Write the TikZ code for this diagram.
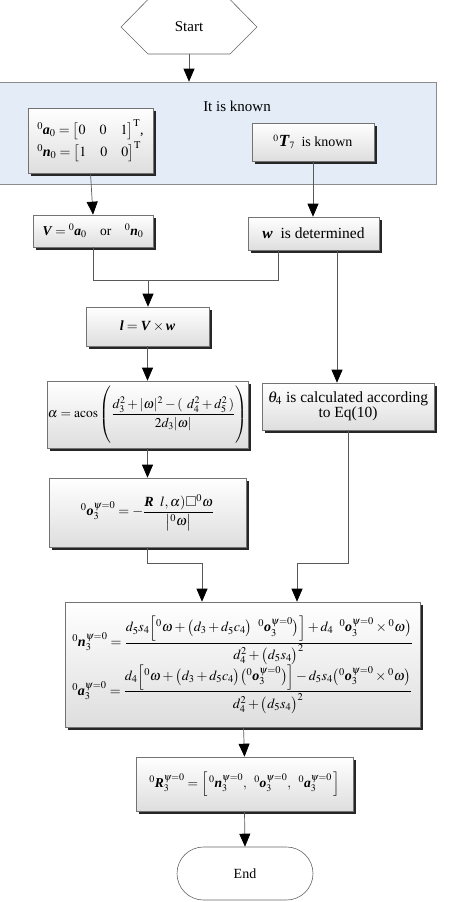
\documentclass[tikz,border=0pt]{standalone}
\usepackage{amsmath,amssymb}
\usepackage{mathptmx}
\usepackage{fontspec}
\setmainfont{Liberation Serif}
\usetikzlibrary{arrows.meta,shadows,calc}
\newcommand{\bv}[1]{\textbf{\textit{#1}}}
\newcommand{\pz}{\psi=0}
\newcommand{\fs}[1]{\fontsize{#1}{#1}\selectfont}
\definecolor{knownblue}{RGB}{228,236,247}
\tikzset{
 pbox/.style={draw=black!55, line width=0.6pt, top color=white, bottom color=black!13,
   drop shadow={shadow xshift=2.5pt, shadow yshift=-2.5pt, fill=black!85, opacity=1},
   inner sep=0pt, align=center, font=\fs{13}},
 ln/.style={draw=black!65, line width=0.7pt},
 arr/.style={ln, -{Triangle[width=11pt,length=13pt,color=black]}},
 plain/.style={font=\fs{15}, inner sep=0pt},
}
\begin{document}
\begin{tikzpicture}[x=1pt,y=-1pt]
\useasboundingbox (0,0) rectangle (474,902);
% start
\draw[draw=black!60, line width=0.6pt, fill=white] (148,-0.5) -- (230,-0.5) -- (257,27) -- (230,54) -- (148,54) -- (121,27) -- cycle;
\node[plain] (start) at (189,27) {Start};
\coordinate (startb) at (189,54);
% known
\node[draw=black!45, line width=0.6pt, fill=knownblue, minimum width=437pt, minimum height=102pt, inner sep=0pt] (known) at (217.5,133) {};
\node[plain] (knowntxt) at (237,106) {It is known};
\node[pbox, font=\fs{14}, minimum width=125pt, minimum height=65pt] (a0) at (90.5,140.5)
  {\begin{tabular}{@{}l@{}}$^0\bv{a}_0=\bigl[0\quad 0\quad 1\bigr]^{\mathrm T}$,\\[3pt] $^0\bv{n}_0=\bigl[1\quad 0\quad 0\bigr]^{\mathrm T}$\end{tabular}};
\node[pbox, minimum width=122pt, minimum height=38pt] (T7) at (313,142)
  {${}^0${\fs{17}\bv{T}}$_7$\ \ {\fs{14}is known}};
% second row
\node[pbox, font=\fs{13.5}, minimum width=120pt, minimum height=32pt] (V) at (93,231)
  {$\bv{V}={}^0\bv{a}_0$\quad or\quad ${}^0\bv{n}_0$};
\node[pbox, font=\fs{15.5}, minimum width=131pt, minimum height=33pt] (w) at (313.5,233.5)
  {$\bv{w}$\ \ is determined};
\node[pbox, font=\fs{14}, minimum width=123pt, minimum height=39pt] (l) at (147.5,326.5)
  {$\bv{l}=\bv{V}\times\bv{w}$};
\node[pbox, font=\fs{13.5}, minimum width=201pt, minimum height=67pt] (alpha) at (147.5,414.5)
  {$\alpha=\mathrm{acos}\left(\rule[-24pt]{0pt}{54pt}\dfrac{d_3^2+|\omega|^2-(\;\,d_4^2+d_5^2\,)}{2d_3|\omega|}\right)$};
\node[pbox, font=\fs{15.5}, minimum width=172pt, minimum height=47pt] (theta) at (348,406.5)
  {$\theta_4$\ is calculated according\\to Eq(10)};
\node[pbox, font=\fs{14}, minimum width=197pt, minimum height=69pt] (o3) at (147.5,512.5)
  {${}^0\bv{o}_3^{\pz}=-\dfrac{\bv{R}\;\;l,\alpha)\square{}^0\omega}{\bigl|{}^0\omega\bigr|}$};
\node[pbox, font=\fs{14}, minimum width=355pt, minimum height=125pt] (formula) at (242.5,664.5)
  {\begin{tabular}{@{}l@{}}
   ${}^0\bv{n}_3^{\pz}=\dfrac{d_5s_4\Bigl[{}^0\omega+\bigl(d_3+d_5c_4\bigr)\;\;{}^0\bv{o}_3^{\pz}\bigr)\Bigr]+d_4\;\;{}^0\bv{o}_3^{\pz}\times{}^0\omega\bigr)}{d_4^2+\bigl(d_5s_4\bigr)^2}$\\[9pt]
   ${}^0\bv{a}_3^{\pz}=\dfrac{d_4\Bigl[{}^0\omega+\bigl(d_3+d_5c_4\bigr)\bigl({}^0\bv{o}_3^{\pz}\bigr)\Bigr]-d_5s_4\bigl({}^0\bv{o}_3^{\pz}\times{}^0\omega\bigr)}{d_4^2+\bigl(d_5s_4\bigr)^2}$
   \end{tabular}};
\node[pbox, font=\fs{13.5}, minimum width=217pt, minimum height=54pt] (R) at (244.5,784)
  {${}^0\bv{R}_3^{\pz}=\Bigl[\,{}^0\bv{n}_3^{\pz},\;\;{}^0\bv{o}_3^{\pz},\;\;{}^0\bv{a}_3^{\pz}\,\Bigr]$};
\node[draw=black!60, line width=0.6pt, fill=white, rounded corners=26.5pt, minimum width=136pt, minimum height=53pt, font=\fs{14}] (end) at (245,873.5) {End};
% connectors
\draw[arr] (startb) -- (startb |- known.north);
\draw[arr] (a0.south) -- (V.north);
\draw[arr] (T7.south) -- (T7.south |- w.north);
\draw[ln] (V.south) -- ++(0,33) -| ([xshift=-35.5pt]w.south);
\coordinate (j1) at (148,280);
\draw[arr] (j1) -- (j1 |- l.north);
\draw[arr] ([xshift=23.5pt]w.south) -- ([xshift=23.5pt]w.south |- theta.north);
\draw[arr] (l.south) -- (alpha.north);
\draw[arr] (alpha.south) -- (o3.north);
\draw[arr] (theta.south) -- ++(0,133) -| ([xshift=54.5pt]formula.north);
\draw[arr] (o3.south) -- ++(0,16) -| ([xshift=-40.5pt]formula.north);
\draw[arr] ([xshift=1pt]formula.south) -- (R.north);
\draw[arr] (R.south) -- (end.north);
\end{tikzpicture}
\end{document}
